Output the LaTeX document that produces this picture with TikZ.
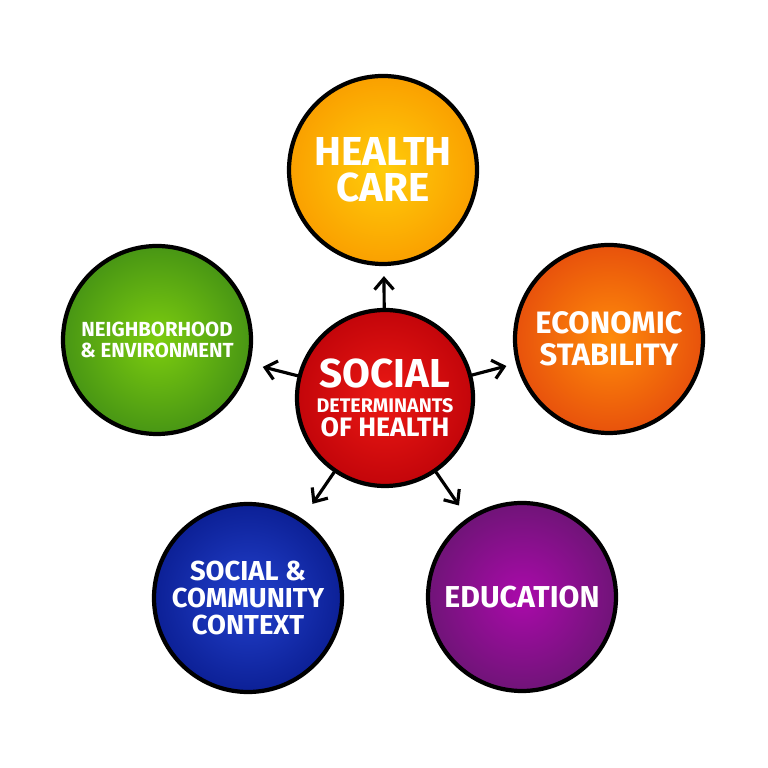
\documentclass[tikz,border=0pt]{standalone}
\usepackage{fontspec}
\setmainfont{Fira Sans}
\usetikzlibrary{arrows.meta}
\definecolor{redin}{RGB}{235,25,20}
\definecolor{redout}{RGB}{195,5,10}
\definecolor{hcin}{RGB}{255,205,10}
\definecolor{hcout}{RGB}{250,160,0}
\definecolor{ecoin}{RGB}{255,140,10}
\definecolor{ecoout}{RGB}{232,82,12}
\definecolor{nein}{RGB}{125,205,15}
\definecolor{neout}{RGB}{72,150,20}
\definecolor{sccin}{RGB}{35,65,205}
\definecolor{sccout}{RGB}{12,32,150}
\definecolor{eduin}{RGB}{170,10,170}
\definecolor{eduout}{RGB}{112,20,120}
\tikzset{
	bubble/.style={circle, draw=black, line width=1.2pt, inner sep=0pt, minimum size=1.88cm, align=center, text=white, font=\bfseries\fontsize{#1}{#1}\selectfont},
	bubble/.default=9,
	arr/.style={line width=0.9pt, -{Straight Barb[length=1.1mm, width=1.9mm, line width=0.9pt]}},
}
\begin{document}
\begin{tikzpicture}[line join=round, line cap=round, font=\small, scale=1]
		\useasboundingbox (0,0) rectangle (7.68,7.68);
		\path 
			(3.85,3.70) coordinate (S)
			(3.83,5.98) coordinate (H)
			(6.09,4.29) coordinate (E)
			(1.57,4.28) coordinate (N)
			(2.48,1.70) coordinate (C)
			(5.22,1.71) coordinate (D)
		;
		\node[bubble=5.6, minimum size=1.76cm, inner color=redin, outer color=redout] (soc) at (S)
			{{\fontsize{11.5}{12}\selectfont SOCIAL}\\[1.4pt]DETERMINANTS\\[1.3pt]{\fontsize{7.6}{8}\selectfont OF HEALTH}};
		\node[bubble=11.5, inner color=hcin, outer color=hcout] (hc) at (H)
			{HEALTH\\[-1.3pt]CARE};
		\node[bubble=8.8, inner color=ecoin, outer color=ecoout] (eco) at (E)
			{ECONOMIC\\[0.2pt]STABILITY};
		\node[bubble=5.8, inner color=nein, outer color=neout] (ne) at (N)
			{NEIGHBORHOOD\\\& ENVIRONMENT};
		\node[bubble=7.8, inner color=sccin, outer color=sccout] (scc) at (C)
			{SOCIAL \&\\COMMUNITY\\CONTEXT};
		\node[bubble=8.6, inner color=eduin, outer color=eduout] (edu) at (D)
			{EDUCATION};
		\foreach \t/\s in {hc/0.10, eco/0.10, ne/0.13, scc/0.18, edu/0.15}{
			\draw[arr, shorten >=\s cm] (soc) -- (\t);
		}
		\end{tikzpicture}
\end{document}
